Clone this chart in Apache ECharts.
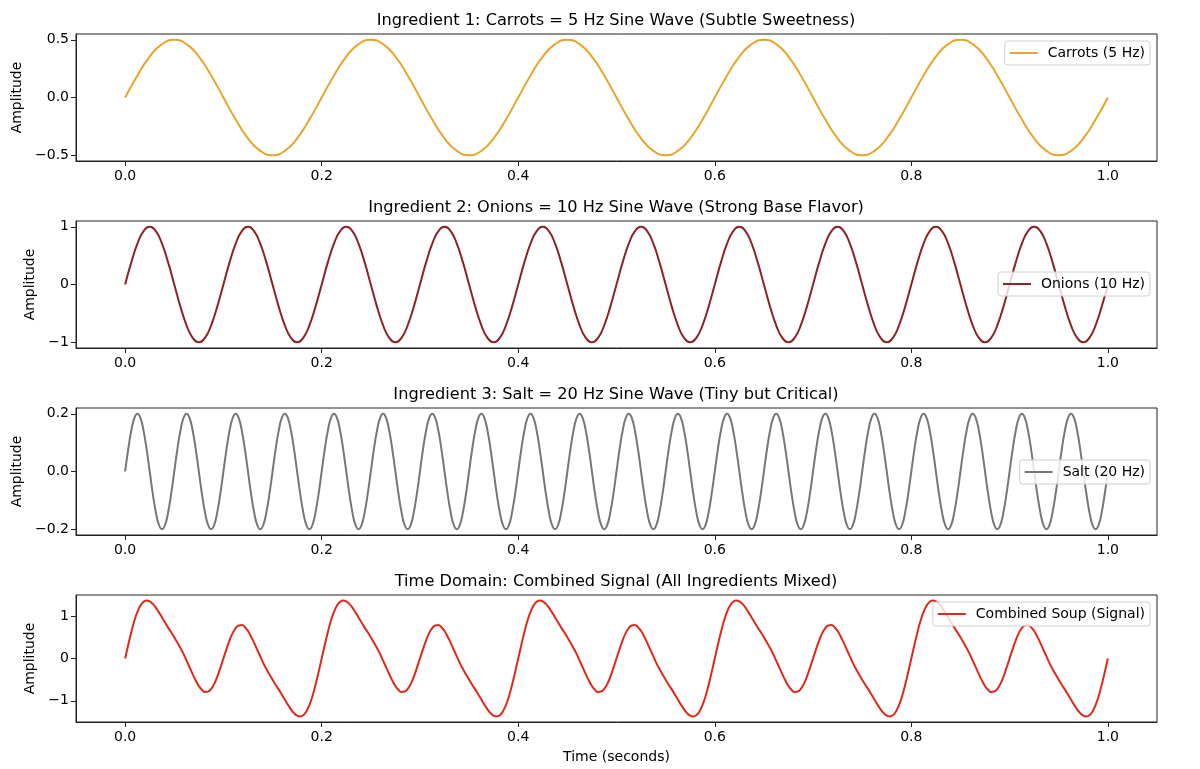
<!DOCTYPE html>
<html>
<head>
<meta charset="utf-8">
<script src="https://cdn.jsdelivr.net/npm/echarts@6/dist/echarts.min.js"></script>
<style>
  html, body { margin: 0; padding: 0; background: #fff; }
  #chart { width: 1200px; height: 769px; }
</style>
</head>
<body>
<div id="chart"></div>
<script>
// sample spacing (seconds) for each series
const carrotsStep = 0.0125;
const onionsStep = 0.00625;
const saltStep = 0.003125;
const combinedStep = 0.003125;

// Carrots: 5 Hz, amplitude 0.5
const carrots = [
  0, 0.191, 0.354, 0.462, 0.5, 0.462, 0.354, 0.191, 0, -0.191, -0.354, -0.462, -0.5, -0.462, -0.354, -0.191,
  0, 0.191, 0.354, 0.462, 0.5, 0.462, 0.354, 0.191, 0, -0.191, -0.354, -0.462, -0.5, -0.462, -0.354, -0.191,
  0, 0.191, 0.354, 0.462, 0.5, 0.462, 0.354, 0.191, 0, -0.191, -0.354, -0.462, -0.5, -0.462, -0.354, -0.191,
  0, 0.191, 0.354, 0.462, 0.5, 0.462, 0.354, 0.191, 0, -0.191, -0.354, -0.462, -0.5, -0.462, -0.354, -0.191,
  0, 0.191, 0.354, 0.462, 0.5, 0.462, 0.354, 0.191, 0, -0.191, -0.354, -0.462, -0.5, -0.462, -0.354, -0.191,
  0
];

// Onions: 10 Hz, amplitude 1
const onions = [
  0, 0.383, 0.707, 0.924, 1, 0.924, 0.707, 0.383, 0, -0.383, -0.707, -0.924, -1, -0.924, -0.707, -0.383,
  0, 0.383, 0.707, 0.924, 1, 0.924, 0.707, 0.383, 0, -0.383, -0.707, -0.924, -1, -0.924, -0.707, -0.383,
  0, 0.383, 0.707, 0.924, 1, 0.924, 0.707, 0.383, 0, -0.383, -0.707, -0.924, -1, -0.924, -0.707, -0.383,
  0, 0.383, 0.707, 0.924, 1, 0.924, 0.707, 0.383, 0, -0.383, -0.707, -0.924, -1, -0.924, -0.707, -0.383,
  0, 0.383, 0.707, 0.924, 1, 0.924, 0.707, 0.383, 0, -0.383, -0.707, -0.924, -1, -0.924, -0.707, -0.383,
  0, 0.383, 0.707, 0.924, 1, 0.924, 0.707, 0.383, 0, -0.383, -0.707, -0.924, -1, -0.924, -0.707, -0.383,
  0, 0.383, 0.707, 0.924, 1, 0.924, 0.707, 0.383, 0, -0.383, -0.707, -0.924, -1, -0.924, -0.707, -0.383,
  0, 0.383, 0.707, 0.924, 1, 0.924, 0.707, 0.383, 0, -0.383, -0.707, -0.924, -1, -0.924, -0.707, -0.383,
  0, 0.383, 0.707, 0.924, 1, 0.924, 0.707, 0.383, 0, -0.383, -0.707, -0.924, -1, -0.924, -0.707, -0.383,
  0, 0.383, 0.707, 0.924, 1, 0.924, 0.707, 0.383, 0, -0.383, -0.707, -0.924, -1, -0.924, -0.707, -0.383,
  0
];

// Salt: 20 Hz, amplitude 0.2
const salt = [
  0, 0.077, 0.141, 0.185, 0.2, 0.185, 0.141, 0.077, 0, -0.077, -0.141, -0.185, -0.2, -0.185, -0.141, -0.077,
  0, 0.077, 0.141, 0.185, 0.2, 0.185, 0.141, 0.077, 0, -0.077, -0.141, -0.185, -0.2, -0.185, -0.141, -0.077,
  0, 0.077, 0.141, 0.185, 0.2, 0.185, 0.141, 0.077, 0, -0.077, -0.141, -0.185, -0.2, -0.185, -0.141, -0.077,
  0, 0.077, 0.141, 0.185, 0.2, 0.185, 0.141, 0.077, 0, -0.077, -0.141, -0.185, -0.2, -0.185, -0.141, -0.077,
  0, 0.077, 0.141, 0.185, 0.2, 0.185, 0.141, 0.077, 0, -0.077, -0.141, -0.185, -0.2, -0.185, -0.141, -0.077,
  0, 0.077, 0.141, 0.185, 0.2, 0.185, 0.141, 0.077, 0, -0.077, -0.141, -0.185, -0.2, -0.185, -0.141, -0.077,
  0, 0.077, 0.141, 0.185, 0.2, 0.185, 0.141, 0.077, 0, -0.077, -0.141, -0.185, -0.2, -0.185, -0.141, -0.077,
  0, 0.077, 0.141, 0.185, 0.2, 0.185, 0.141, 0.077, 0, -0.077, -0.141, -0.185, -0.2, -0.185, -0.141, -0.077,
  0, 0.077, 0.141, 0.185, 0.2, 0.185, 0.141, 0.077, 0, -0.077, -0.141, -0.185, -0.2, -0.185, -0.141, -0.077,
  0, 0.077, 0.141, 0.185, 0.2, 0.185, 0.141, 0.077, 0, -0.077, -0.141, -0.185, -0.2, -0.185, -0.141, -0.077,
  0, 0.077, 0.141, 0.185, 0.2, 0.185, 0.141, 0.077, 0, -0.077, -0.141, -0.185, -0.2, -0.185, -0.141, -0.077,
  0, 0.077, 0.141, 0.185, 0.2, 0.185, 0.141, 0.077, 0, -0.077, -0.141, -0.185, -0.2, -0.185, -0.141, -0.077,
  0, 0.077, 0.141, 0.185, 0.2, 0.185, 0.141, 0.077, 0, -0.077, -0.141, -0.185, -0.2, -0.185, -0.141, -0.077,
  0, 0.077, 0.141, 0.185, 0.2, 0.185, 0.141, 0.077, 0, -0.077, -0.141, -0.185, -0.2, -0.185, -0.141, -0.077,
  0, 0.077, 0.141, 0.185, 0.2, 0.185, 0.141, 0.077, 0, -0.077, -0.141, -0.185, -0.2, -0.185, -0.141, -0.077,
  0, 0.077, 0.141, 0.185, 0.2, 0.185, 0.141, 0.077, 0, -0.077, -0.141, -0.185, -0.2, -0.185, -0.141, -0.077,
  0, 0.077, 0.141, 0.185, 0.2, 0.185, 0.141, 0.077, 0, -0.077, -0.141, -0.185, -0.2, -0.185, -0.141, -0.077,
  0, 0.077, 0.141, 0.185, 0.2, 0.185, 0.141, 0.077, 0, -0.077, -0.141, -0.185, -0.2, -0.185, -0.141, -0.077,
  0, 0.077, 0.141, 0.185, 0.2, 0.185, 0.141, 0.077, 0, -0.077, -0.141, -0.185, -0.2, -0.185, -0.141, -0.077,
  0, 0.077, 0.141, 0.185, 0.2, 0.185, 0.141, 0.077, 0, -0.077, -0.141, -0.185, -0.2, -0.185, -0.141, -0.077,
  0
];

// Combined soup signal
const combined = [
  0, 0.32, 0.62, 0.89, 1.10, 1.25, 1.34, 1.37, 1.35, 1.29, 1.20, 1.09, 0.97, 0.85, 0.73, 0.62,
  0.50, 0.38, 0.25, 0.11, -0.05, -0.21, -0.37, -0.52, -0.65, -0.74, -0.79, -0.78, -0.72, -0.60, -0.43, -0.22,
  0, 0.22, 0.43, 0.60, 0.72, 0.78, 0.79, 0.74, 0.65, 0.52, 0.37, 0.21, 0.05, -0.11, -0.25, -0.38,
  -0.50, -0.62, -0.73, -0.85, -0.97, -1.09, -1.20, -1.29, -1.35, -1.37, -1.34, -1.25, -1.10, -0.89, -0.62, -0.32,
  0, 0.32, 0.62, 0.89, 1.10, 1.25, 1.34, 1.37, 1.35, 1.29, 1.20, 1.09, 0.97, 0.85, 0.73, 0.62,
  0.50, 0.38, 0.25, 0.11, -0.05, -0.21, -0.37, -0.52, -0.65, -0.74, -0.79, -0.78, -0.72, -0.60, -0.43, -0.22,
  0, 0.22, 0.43, 0.60, 0.72, 0.78, 0.79, 0.74, 0.65, 0.52, 0.37, 0.21, 0.05, -0.11, -0.25, -0.38,
  -0.50, -0.62, -0.73, -0.85, -0.97, -1.09, -1.20, -1.29, -1.35, -1.37, -1.34, -1.25, -1.10, -0.89, -0.62, -0.32,
  0, 0.32, 0.62, 0.89, 1.10, 1.25, 1.34, 1.37, 1.35, 1.29, 1.20, 1.09, 0.97, 0.85, 0.73, 0.62,
  0.50, 0.38, 0.25, 0.11, -0.05, -0.21, -0.37, -0.52, -0.65, -0.74, -0.79, -0.78, -0.72, -0.60, -0.43, -0.22,
  0, 0.22, 0.43, 0.60, 0.72, 0.78, 0.79, 0.74, 0.65, 0.52, 0.37, 0.21, 0.05, -0.11, -0.25, -0.38,
  -0.50, -0.62, -0.73, -0.85, -0.97, -1.09, -1.20, -1.29, -1.35, -1.37, -1.34, -1.25, -1.10, -0.89, -0.62, -0.32,
  0, 0.32, 0.62, 0.89, 1.10, 1.25, 1.34, 1.37, 1.35, 1.29, 1.20, 1.09, 0.97, 0.85, 0.73, 0.62,
  0.50, 0.38, 0.25, 0.11, -0.05, -0.21, -0.37, -0.52, -0.65, -0.74, -0.79, -0.78, -0.72, -0.60, -0.43, -0.22,
  0, 0.22, 0.43, 0.60, 0.72, 0.78, 0.79, 0.74, 0.65, 0.52, 0.37, 0.21, 0.05, -0.11, -0.25, -0.38,
  -0.50, -0.62, -0.73, -0.85, -0.97, -1.09, -1.20, -1.29, -1.35, -1.37, -1.34, -1.25, -1.10, -0.89, -0.62, -0.32,
  0, 0.32, 0.62, 0.89, 1.10, 1.25, 1.34, 1.37, 1.35, 1.29, 1.20, 1.09, 0.97, 0.85, 0.73, 0.62,
  0.50, 0.38, 0.25, 0.11, -0.05, -0.21, -0.37, -0.52, -0.65, -0.74, -0.79, -0.78, -0.72, -0.60, -0.43, -0.22,
  0, 0.22, 0.43, 0.60, 0.72, 0.78, 0.79, 0.74, 0.65, 0.52, 0.37, 0.21, 0.05, -0.11, -0.25, -0.38,
  -0.50, -0.62, -0.73, -0.85, -0.97, -1.09, -1.20, -1.29, -1.35, -1.37, -1.34, -1.25, -1.10, -0.89, -0.62, -0.32,
  0
];

const titles = [
  "Ingredient 1: Carrots = 5 Hz Sine Wave (Subtle Sweetness)",
  "Ingredient 2: Onions = 10 Hz Sine Wave (Strong Base Flavor)",
  "Ingredient 3: Salt = 20 Hz Sine Wave (Tiny but Critical)",
  "Time Domain: Combined Signal (All Ingredients Mixed)"
];
const seriesNames = ["Carrots (5 Hz)", "Onions (10 Hz)", "Salt (20 Hz)", "Combined Soup (Signal)"];
const xTicks = [0, 0.2, 0.4, 0.6, 0.8, 1.0];
const yTicks = [[-0.5, 0, 0.5], [-1, 0, 1], [-0.2, 0, 0.2], [-1, 0, 1]];

const colors = ["#E9A52B", "#8B2424", "#777777", "#E0281C"];
const yLimits = [0.55, 1.1, 0.22, 1.5];
const yDecimals = [1, 0, 1, 0];
const gridTops = [34, 221, 408, 595];
const nameGaps = [49, 39, 50, 37];
const legendTops = [41, 272, 460, 602];

const values = [carrots, onions, salt, combined];
const steps = [carrotsStep, onionsStep, saltStep, combinedStep];

const font = "DejaVu Sans";
const fmt = (v, d) => v.toFixed(d).replace("-", "\u2212");

let chart = echarts.init(document.getElementById("chart"), null, { renderer: "canvas" });

let option = {
  animation: false,
  backgroundColor: "#fff",
  title: titles.map((t, i) => ({
    text: t,
    left: 616,
    top: gridTops[i] - 21,
    textAlign: "center",
    padding: 0,
    textStyle: { fontFamily: font, fontSize: 16.2, fontWeight: "normal", color: "#000" }
  })),
  legend: seriesNames.map((n, i) => ({
    data: [n],
    right: 50,
    top: legendTops[i],
    orient: "vertical",
    icon: "rect",
    padding: [5, 5, 5, 5],
    itemWidth: 28,
    itemHeight: 2,
    backgroundColor: "rgba(255,255,255,0.8)",
    borderColor: "#d0d0d0",
    borderWidth: 1,
    borderRadius: 3,
    textStyle: { fontFamily: font, fontSize: 14, color: "#000", padding: [0, 0, 0, 5], lineHeight: 14 }
  })),
  grid: gridTops.map((t) => ({
    left: 76,
    right: 43,
    top: t,
    height: 127,
    show: true,
    borderColor: "#222",
    borderWidth: 1,
    backgroundColor: "transparent"
  })),
  xAxis: gridTops.map((t, i) => ({
    type: "value",
    gridIndex: i,
    min: -0.05,
    max: 1.05,
    name: i === 3 ? "Time (seconds)" : "",
    nameLocation: "middle",
    nameGap: 28,
    nameTextStyle: { fontFamily: font, fontSize: 14, color: "#000" },
    splitLine: { show: false },
    axisLine: { show: true, onZero: false, lineStyle: { color: "#222", width: 1 } },
    axisTick: { show: true, length: 5, customValues: xTicks, lineStyle: { color: "#222" } },
    axisLabel: {
      customValues: xTicks,
      margin: 8,
      fontFamily: font,
      fontSize: 14,
      color: "#000",
      formatter: (v) => fmt(v, 1)
    }
  })),
  yAxis: gridTops.map((t, i) => ({
    type: "value",
    gridIndex: i,
    min: -yLimits[i],
    max: yLimits[i],
    name: "Amplitude",
    nameLocation: "middle",
    nameRotate: 90,
    nameGap: nameGaps[i],
    nameTextStyle: { fontFamily: font, fontSize: 14, color: "#000" },
    splitLine: { show: false },
    axisLine: { show: true, onZero: false, lineStyle: { color: "#222", width: 1 } },
    axisTick: { show: true, length: 5, customValues: yTicks[i], lineStyle: { color: "#222" } },
    axisLabel: {
      customValues: yTicks[i],
      margin: 7,
      fontFamily: font,
      fontSize: 14,
      color: "#000",
      formatter: (v) => fmt(v, yDecimals[i])
    }
  })),
  series: values.map((arr, i) => ({
    name: seriesNames[i],
    type: "line",
    xAxisIndex: i,
    yAxisIndex: i,
    showSymbol: false,
    symbol: "none",
    smooth: true,
    color: colors[i],
    lineStyle: { color: colors[i], width: 2 },
    data: arr.map((v, k) => [k * steps[i], v])
  }))
};

chart.setOption(option);
</script>
</body>
</html>
